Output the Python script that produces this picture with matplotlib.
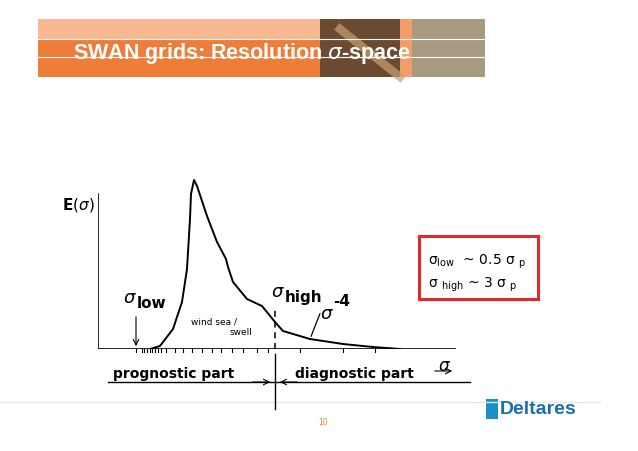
import matplotlib
matplotlib.use("Agg")
import matplotlib.pyplot as plt
from matplotlib.patches import Rectangle

# spectrum data (sigma in arbitrary units, E in arbitrary units)
sigma = [52, 62, 75, 84, 89, 92, 93, 96, 99, 109, 119, 128, 130, 135, 149, 164, 177, 185, 212, 245, 275, 302]
energy = [0, 3, 20, 47, 80, 130, 155, 169, 163, 133, 107, 90, 82, 67, 50, 43, 27, 18, 10, 5, 2, 0]
grid_ticks = [38, 44, 46, 49, 52, 54, 57, 60, 63, 68, 77, 85, 94, 104, 114, 123, 134, 145, 159, 170, 202, 245, 277]
sigma_high = 177

fig = plt.figure(figsize=(6.38, 4.52), dpi=100)
bg = fig.add_axes([0, 0, 1, 1])
bg.set_xlim(0, 638); bg.set_ylim(452, 0); bg.axis("off")

# header
bg.add_patch(Rectangle((38, 20), 447, 20, color="#f6b990", lw=0))
bg.add_patch(Rectangle((38, 40), 447, 38, color="#ee7d3a", lw=0))
bg.add_patch(Rectangle((320, 20), 80, 58, color="#6b4a32", lw=0))
bg.add_patch(Rectangle((400, 20), 12, 58, color="#f39c66", lw=0))
bg.add_patch(Rectangle((412, 20), 73, 58, color="#a89a80", lw=0))
bg.plot([340, 400], [30, 78], color="#c8a070", lw=6, alpha=0.7)
bg.plot([38, 485], [40, 40], color="white", lw=0.8)
bg.plot([38, 485], [58, 58], color="white", lw=0.8)
bg.text(73, 53, r"SWAN grids: Resolution $\sigma$-space", color="white", fontsize=15.5,
        fontweight="bold", va="center", family="Liberation Sans")

# footer
bg.plot([0, 600], [403, 403], color="#e6e6e6", lw=1)
bg.text(323, 423, "10", color="#e87c3a", fontsize=5.5, ha="center", va="center")
bg.add_patch(Rectangle((486, 400), 12, 20, color="#1a8fc9", lw=0))
bg.text(500, 410, "Deltares", color="#1a6fb0", fontsize=14, fontweight="bold", va="center",
        family="Liberation Sans")

# red box
bg.add_patch(Rectangle((419, 237), 119, 63, fill=False, ec="#e0282d", lw=2.2))
bg.text(428, 262, r"σ$_{\rm low}$  ~ 0.5 σ $_{\rm p}$", fontsize=10, va="center")
bg.text(428, 285, r"σ $_{\rm high}$ ~ 3 σ $_{\rm p}$", fontsize=10, va="center")

# spectrum axes: x pixels 98..470, y pixels 170..350
ax = fig.add_axes([98/638, 1-350/452, (470-98)/638, (350-170)/452])
ax.set_xlim(0, 372); ax.set_ylim(0, 180)
ax.axis("off")
ax.plot([0, 0], [0, 155], color="black", lw=1.2)
ax.plot([0, 357], [0, 0], color="black", lw=1.2)
ax.plot(sigma, energy, color="black", lw=1.4)
for t in grid_ticks:
    ax.plot([t, t], [-3, 0], color="black", lw=0.8, clip_on=False)
ax.plot([sigma_high, sigma_high], [0, 40], color="black", lw=1.1, ls=(0, (4, 3)))
ax.annotate("", xy=(38, 0), xytext=(38, 35), arrowprops=dict(arrowstyle="->", lw=0.8))
ax.annotate("", xy=(212, 10), xytext=(223, 38),
            arrowprops=dict(arrowstyle="-", lw=0.9))

bg.text(62, 205, r"$\mathbf{E}$($\sigma$)", fontsize=11, va="center")
bg.text(123, 298, r"$\sigma$", fontsize=13, va="center")
bg.text(137, 304, "low", fontsize=11, fontweight="bold", va="center")
bg.text(271, 292, r"$\sigma$", fontsize=13, va="center")
bg.text(285, 298, "high", fontsize=11, fontweight="bold", va="center")
bg.text(320, 314, r"$\sigma$", fontsize=13, va="center")
bg.text(333, 302, "-4", fontsize=11, fontweight="bold", va="center")
bg.text(191, 322, "wind sea /", fontsize=6.5, va="center")
bg.text(230, 333, "swell", fontsize=6.5, va="center")

# prognostic / diagnostic
bg.text(113, 374, "prognostic part", fontsize=10, fontweight="bold", va="center")
bg.text(295, 374, "diagnostic part", fontsize=10, fontweight="bold", va="center")
bg.plot([108, 470], [383, 383], color="black", lw=1)
bg.plot([275, 275], [355, 410], color="black", lw=1)
bg.annotate("", xy=(273, 383), xytext=(250, 383), arrowprops=dict(arrowstyle="->", lw=0.8))
bg.annotate("", xy=(277, 383), xytext=(300, 383), arrowprops=dict(arrowstyle="->", lw=0.8))
bg.text(438, 366, r"$\sigma$", fontsize=12, va="center")
bg.annotate("", xy=(455, 372), xytext=(432, 372), arrowprops=dict(arrowstyle="->", lw=0.8))

fig.savefig("out.png", dpi=100)
